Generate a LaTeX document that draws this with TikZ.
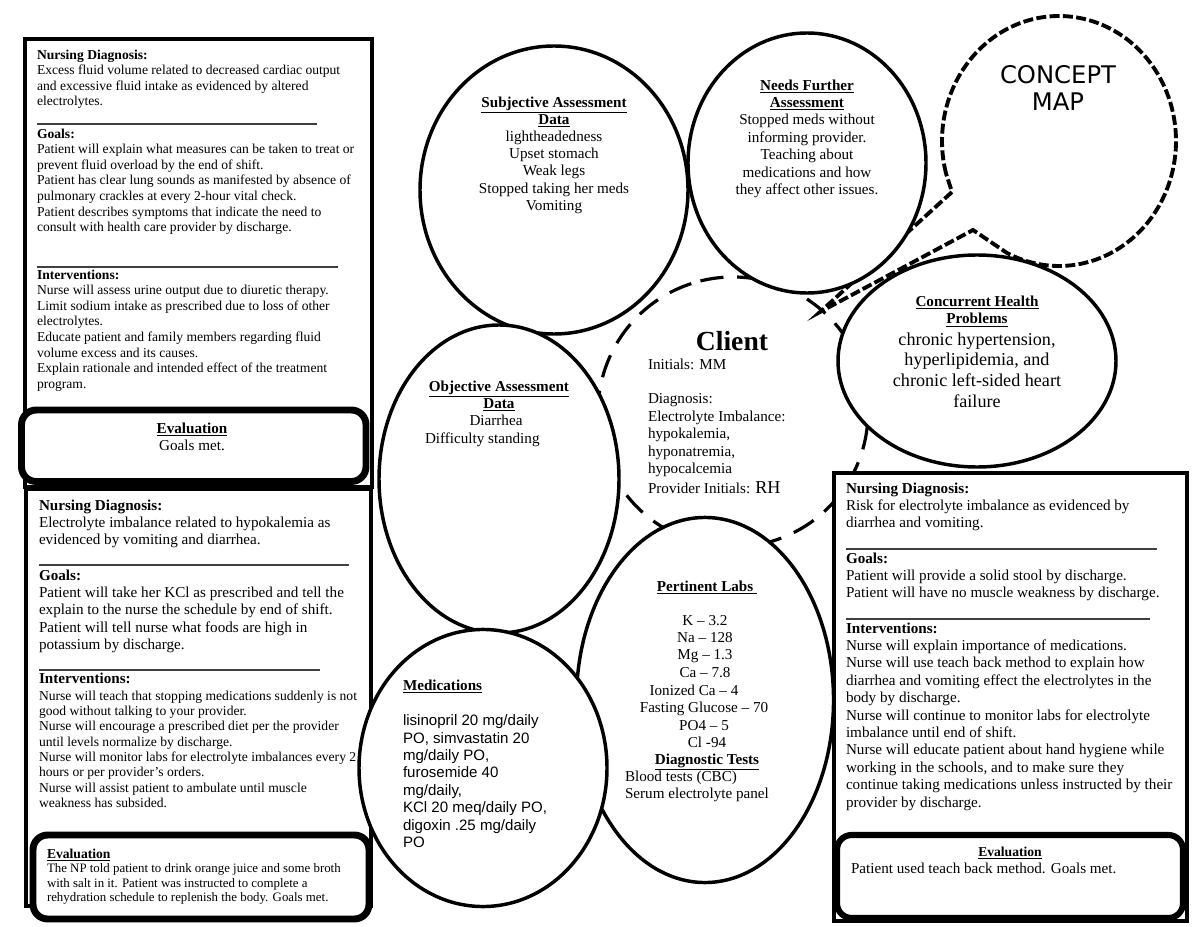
\documentclass[tikz,border=0pt]{standalone}
\usepackage{fontspec}
\usetikzlibrary{shapes.geometric}
\setmainfont{Liberation Serif}
\newfontfamily\arialf{Liberation Sans}
\newfontfamily\dejaf{DejaVu Sans}
\lineskiplimit=-100pt
\newcommand{\fl}{\rule{0pt}{10pt}}
\newcommand{\hd}[1]{\textbf{\underline{#1}}}
\tikzset{
  ninept/.style={font=\fontsize{10.2}{11.7}\selectfont},
  tenpt/.style={font=\fontsize{11.36}{13.05}\selectfont},
  tl/.style={inner sep=0pt,outer sep=0pt,anchor=north west,align=left},
  tc/.style={inner sep=0pt,outer sep=0pt,anchor=north,align=center},
  rulel/.style={line width=0.8pt,draw=black!75},
  boxl/.style={draw=black,line width=3pt,fill=white},
  evall/.style={draw=black,line width=5.2pt,fill=white,rounded corners=11pt},
  oval/.style={ellipse,draw=black,line width=2.6pt,fill=white,inner sep=0pt,outer sep=0pt},
  dashl/.style={draw=black,line width=2.4pt,dash pattern=on 17.5pt off 10.3pt},
  clouddash/.style={draw=black,line width=2.9pt,dash pattern=on 7.5pt off 2.5pt,fill=white}
}
\begin{document}
\begin{tikzpicture}[x=0.75pt,y=-0.75pt]
\useasboundingbox (0,0) rectangle (1200,927);
\fill[white] (0,0) rectangle (1200,927);
% client dashed circle
\node[circle,minimum size=202.5pt,inner sep=0pt,dashl,rotate=108] (clientc) at (733,412) {};
% concept map callout
\coordinate (tailA) at (973,230);
\coordinate (tailTip) at (820,312);
\coordinate (tailB) at (952,192);
\draw[clouddash] plot[smooth,samples=90,domain=165:476.4] ({1059+117*cos(\x)},{141+125*sin(\x)}) -- (tailA) -- (tailTip) -- (tailB) -- cycle;
% left boxes
\filldraw[boxl] (24.5,39.5) rectangle (372,487);
\node[tl,ninept] (t1) at (37,45.7) {\fl\textbf{Nursing Diagnosis:}\\Excess fluid volume related to decreased cardiac output\\and excessive fluid intake as evidenced by altered\\electrolytes.};
\draw[rulel] (37,124) -- (317,124);
\node[tl,ninept] (t2) at (37,124.7) {\fl\textbf{Goals:}\\Patient will explain what measures can be taken to treat or\\prevent fluid overload by the end of shift.\\Patient has clear lung sounds as manifested by absence of\\pulmonary crackles at every 2-hour vital check.\\Patient describes symptoms that indicate the need to\\consult with health care provider by discharge.};
\draw[rulel] (37,267) -- (338,267);
\node[tl,ninept] (t3) at (37,265.7) {\fl\textbf{Interventions:}\\Nurse will assess urine output due to diuretic therapy.\\Limit sodium intake as prescribed due to loss of other\\electrolytes.\\Educate patient and family members regarding fluid\\volume excess and its causes.\\Explain rationale and intended effect of the treatment\\program.};
\filldraw[boxl] (26,489) rectangle (371,906);
\node[tl,tenpt] (t4) at (39,496.7) {\fl\textbf{Nursing Diagnosis:}\\Electrolyte imbalance related to hypokalemia as\\evidenced by vomiting and diarrhea.};
\draw[rulel] (39,565) -- (349,565);
\node[tl,tenpt] (t5) at (39,566.7) {\fl\textbf{Goals:}\\Patient will take her KCl as prescribed and tell the\\explain to the nurse the schedule by end of shift.\\Patient will tell nurse what foods are high in\\potassium by discharge.};
\draw[rulel] (39,670) -- (320,670);
\node[tl,tenpt] (t6) at (39,669.7) {\fl\textbf{Interventions:}};
\node[tl,ninept,font=\fontsize{10.2}{11.5}\selectfont] (t7) at (39,686.7) {\fl Nurse will teach that stopping medications suddenly is not\\good without talking to your provider.\\Nurse will encourage a prescribed diet per the provider\\until levels normalize by discharge.\\Nurse will monitor labs for electrolyte imbalances every 2\\hours or per provider’s orders.\\Nurse will assist patient to ambulate until muscle\\weakness has subsided.};
\filldraw[evall] (21.5,410) rectangle (366,481.5);
\node[tc,tenpt] (ev1) at (192,419.7) {\fl\hd{Evaluation}\\Goals met.};
\filldraw[evall] (33,835) rectangle (369,919);
\node[tl,font=\fontsize{9.65}{10.9}\selectfont] (ev2) at (47,844.7) {\fl{\fontsize{10.2}{10.9}\selectfont\hd{Evaluation}}\\The NP told patient to drink orange juice and some broth\\with salt in it. Patient was instructed to complete a\\rehydration schedule to replenish the body. Goals met.};
% right box
\filldraw[boxl] (833.5,473) rectangle (1187,921);
\node[tl,tenpt] (r1) at (846,479.7) {\fl\textbf{Nursing Diagnosis:}\\Risk for electrolyte imbalance as evidenced by\\diarrhea and vomiting.};
\draw[rulel] (846,549) -- (1157,549);
\node[tl,tenpt] (r2) at (846,549.7) {\fl\textbf{Goals:}\\Patient will provide a solid stool by discharge.\\Patient will have no muscle weakness by discharge.};
\draw[rulel] (846,619) -- (1150,619);
\node[tl,tenpt] (r3) at (846,619.7) {\fl\textbf{Interventions:}\\Nurse will explain importance of medications.\\Nurse will use teach back method to explain how\\diarrhea and vomiting effect the electrolytes in the\\body by discharge.\\Nurse will continue to monitor labs for electrolyte\\imbalance until end of shift.\\Nurse will educate patient about hand hygiene while\\working in the schools, and to make sure they\\continue taking medications unless instructed by their\\provider by discharge.};
\filldraw[evall,line width=4.6pt] (837,835) rectangle (1183,918);
\node[tc,ninept] (ev3) at (1010,842.7) {\fl\hd{Evaluation}};
\node[tl,tenpt] (ev4) at (851,859.7) {\fl Patient used teach back method. Goals met.};
% ellipses
\node[oval,minimum width=201pt,minimum height=216pt] (subj) at (554,190) {};
\node[oval,minimum width=178.5pt,minimum height=195pt] (needs) at (807,163) {};
\node[oval,minimum width=208.5pt,minimum height=159pt] (conc) at (977,361) {};
\node[oval,minimum width=180pt,minimum height=231pt] (obj) at (499,479) {};
\node[oval,minimum width=192.8pt,minimum height=273.8pt] (labs) at (705,700) {};
\node[oval,minimum width=186pt,minimum height=207.8pt] (meds) at (483,768) {};
% texts
\node[tc,tenpt] (subjt) at (554,93.7) {\fl\hd{Subjective Assessment}\\\hd{Data}};
\node[tc,tenpt] (subjb) at (554,127.7) {\fl lightheadedness\\Upset stomach\\Weak legs\\Stopped taking her meds\\Vomiting};
\node[tc,tenpt] (needst) at (807,76.7) {\fl\hd{Needs Further}\\\hd{Assessment}\\Stopped meds without\\informing provider.\\Teaching about\\medications and how\\they affect other issues.};
\node[tc,tenpt] (objt) at (499,377.7) {\fl\hd{Objective Assessment}\\\hd{Data}};
\node[tc,tenpt] (objb) at (496,411.7) {\fl Diarrhea};
\node[tl,tenpt] (objc) at (425,429.7) {\fl Difficulty standing};
\node[tc,font=\bfseries\fontsize{20.7}{24}\selectfont] (client) at (732,331) {\rule{0pt}{14pt}Client};
\node[tl,tenpt] (clientb) at (648,355.7) {\fl Initials: MM\\ \\Diagnosis:\\Electrolyte Imbalance:\\hypokalemia,\\hyponatremia,\\hypocalcemia};
\node[tl,tenpt] (clientp) at (648,479.7) {\fl Provider Initials: {\fontsize{13.6}{13.05}\selectfont RH}};
\node[tc,font=\fontsize{11.36}{13.4}\selectfont] (conct) at (977,292.7) {\fl\hd{Concurrent Health}\\\hd{Problems}};
\node[tc,font=\fontsize{13.6}{15.5}\selectfont] (concb) at (977,331.7) {\fl chronic hypertension,\\hyperlipidemia, and\\chronic left-sided heart\\failure};
\node[tc,font=\dejaf\fontsize{18.2}{20.2}\selectfont] (title) at (1058,65.3) {\fl CONCEPT\\MAP};
\node[tc,tenpt] (labh) at (707,577.7) {\fl\hd{Pertinent Labs }};
\node[tc,tenpt] (labk) at (705,611.7) {\fl K – 3.2\\Na – 128\\Mg – 1.3\\Ca – 7.8};
\node[tc,tenpt] (labi) at (694,681.7) {\fl Ionized Ca – 4};
\node[tc,tenpt] (labf) at (704,699) {\fl Fasting Glucose – 70};
\node[tc,tenpt] (labp) at (704,716.7) {\fl PO4 – 5};
\node[tc,tenpt] (labc) at (707,733.7) {\fl Cl -94};
\node[tc,tenpt] (labd) at (707,750.7) {\fl\hd{Diagnostic Tests}};
\node[tl,tenpt] (labb) at (625,767.7) {\fl Blood tests (CBC)\\Serum electrolyte panel};
\node[tl,tenpt] (medh) at (403,676.7) {\fl\hd{Medications}};
\node[tl,font=\arialf\fontsize{11.3}{13.05}\selectfont] (medb) at (403,712.3) {\fl lisinopril 20 mg/daily\\PO, simvastatin 20\\mg/daily PO,\\furosemide 40\\mg/daily,\\KCl 20 meq/daily PO,\\digoxin .25 mg/daily\\PO};
\end{tikzpicture}
\end{document}
